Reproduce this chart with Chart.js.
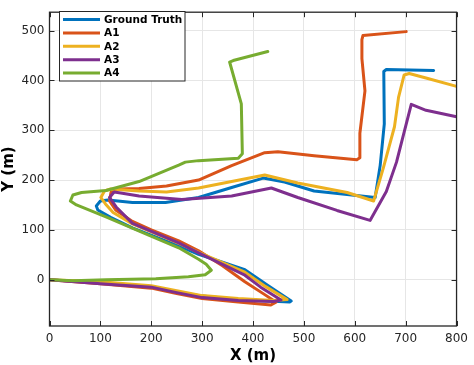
<!DOCTYPE html>
<html>
<head>
<meta charset="utf-8">
<script src="https://cdn.jsdelivr.net/npm/chart.js@4.4.0/dist/chart.umd.min.js"></script>
<style>
  html, body { margin: 0; padding: 0; background: #fff; }
  #wrap { width: 474px; height: 365px; }
</style>
</head>
<body>
<div id="wrap"><canvas id="pathChart" width="474" height="365"></canvas></div>
<script>
// tick labels
const xTicks = [0, 100, 200, 300, 400, 500, 600, 700, 800];
const yTicks = [0, 100, 200, 300, 400, 500];

// Ground Truth
const gtX = [0, 100, 200, 250, 300, 371, 430, 472, 475, 430, 384, 293, 254, 163, 120, 95, 92, 100, 115, 163, 228, 293, 358, 420, 462, 520, 585, 640, 650, 658, 657, 662, 755];
const gtY = [0, -6, -14, -24, -33, -40, -43, -45, -43, -12, 20, 51, 68, 104, 125, 140, 148, 158, 160, 155, 155, 165, 185, 204, 196, 178, 171, 165, 230, 313, 418, 422, 420];

// A1
const a1X = [0, 100, 200, 250, 300, 371, 435, 445, 420, 384, 340, 293, 254, 200, 163, 130, 118, 121, 135, 176, 230, 293, 358, 423, 449, 520, 604, 610, 610, 620, 614, 614, 616, 701];
const a1Y = [0, -8, -17, -28, -38, -45, -51, -45, -28, -4, 28, 58, 78, 100, 117, 140, 158, 176, 182, 183, 188, 200, 229, 255, 257, 249, 241, 245, 294, 379, 444, 482, 490, 498];

// A2
const a2X = [0, 100, 200, 250, 300, 371, 440, 467, 425, 384, 293, 254, 163, 125, 110, 101, 108, 120, 176, 230, 293, 358, 423, 488, 585, 637, 656, 678, 686, 697, 707, 740, 800];
const a2Y = [0, -4, -12, -22, -32, -38, -42, -40, -14, 15, 55, 73, 112, 135, 152, 165, 178, 182, 178, 176, 184, 197, 210, 194, 175, 158, 224, 307, 366, 411, 414, 405, 388];

// A3
const a3X = [0, 100, 200, 250, 300, 371, 440, 455, 415, 384, 293, 254, 163, 131, 118, 127, 140, 176, 260, 358, 436, 488, 565, 630, 662, 682, 695, 711, 740, 800];
const a3Y = [0, -8, -15, -26, -36, -42, -44, -41, -15, 9, 54, 74, 113, 146, 165, 176, 174, 168, 161, 168, 184, 165, 139, 119, 177, 236, 288, 352, 340, 327];

// A4
const a4X = [0, 46, 111, 209, 273, 306, 318, 308, 293, 254, 196, 111, 53, 41, 46, 63, 111, 176, 254, 267, 293, 371, 379, 377, 354, 361, 429];
const a4Y = [0, -2, 0, 2, 6, 10, 19, 31, 41, 64, 89, 126, 150, 158, 170, 175, 179, 197, 230, 236, 239, 244, 253, 353, 437, 440, 458];

const seriesNames = ["Ground Truth", "A1", "A2", "A3", "A4"];
const seriesColors = ["#0072BD", "#D95319", "#EDB120", "#7E2F8E", "#77AC30"];
const seriesX = [gtX, a1X, a2X, a3X, a4X];
const seriesY = [gtY, a1Y, a2Y, a3Y, a4Y];

const axisColor = "#262626";

function toPoints(xs, ys) {
    return xs.map((x, i) => ({ x: x, y: ys[i] }));
}

// frame, inward ticks and legend box (MATLAB style)
const framePlugin = {
    id: "frame",
    afterDraw(chart) {
        const c = chart.ctx;
        const a = chart.chartArea;
        const xs = chart.scales.x, ys = chart.scales.y;
        c.save();
        c.strokeStyle = axisColor;
        c.lineWidth = 1.3;
        c.strokeRect(a.left, a.top, a.right - a.left, a.bottom - a.top);
        c.lineWidth = 1;
        c.beginPath();
        xTicks.forEach(v => {
            const p = Math.round(xs.getPixelForValue(v)) + 0.5;
            c.moveTo(p, a.bottom); c.lineTo(p, a.bottom - 5);
            c.moveTo(p, a.top); c.lineTo(p, a.top + 5);
        });
        yTicks.forEach(v => {
            const p = Math.round(ys.getPixelForValue(v)) + 0.5;
            c.moveTo(a.left, p); c.lineTo(a.left + 5, p);
            c.moveTo(a.right, p); c.lineTo(a.right - 5, p);
        });
        c.stroke();

        // legend
        const bx = 59.5, by = 11.5, bw = 125.5, bh = 69.5;
        c.fillStyle = "#fff";
        c.fillRect(bx, by, bw, bh);
        c.strokeStyle = axisColor;
        c.lineWidth = 1;
        c.strokeRect(bx, by, bw, bh);
        c.font = "bold 10.5px 'DejaVu Sans'";
        c.textBaseline = "middle";
        chart.data.datasets.forEach((ds, i) => {
            const ry = 19.5 + i * 13.4;
            c.strokeStyle = ds.borderColor;
            c.lineWidth = 3;
            c.beginPath();
            c.moveTo(63, ry); c.lineTo(100, ry);
            c.stroke();
            c.fillStyle = "#000";
            c.fillText(ds.label, 104, ry + 0.5);
        });
        c.restore();
    }
};

const ctx = document.getElementById("pathChart").getContext("2d");
const pathChart = new Chart(ctx, {
    type: "line",
    data: {
        datasets: seriesNames.map((name, i) => ({
            label: name,
            data: toPoints(seriesX[i], seriesY[i]),
            borderColor: seriesColors[i],
            backgroundColor: seriesColors[i],
            borderWidth: 3,
            pointRadius: 0,
            tension: 0,
            fill: false,
            order: seriesNames.length - i,
            borderJoinStyle: "round",
            borderCapStyle: "round"
        }))
    },
    options: {
        responsive: false,
        animation: false,
        layout: { padding: { left: 0, top: 2, right: 13, bottom: 0 } },
        plugins: {
            legend: { display: false },
            tooltip: { enabled: false }
        },
        scales: {
            x: {
                type: "linear",
                min: 0,
                max: 800,
                afterBuildTicks: s => { s.ticks = xTicks.map(v => ({ value: v })); },
                afterFit: s => { s.height = 39; },
                grid: { color: "#e6e6e6", drawTicks: false },
                border: { display: false },
                ticks: {
                    padding: 6,
                    color: axisColor,
                    font: { family: "DejaVu Sans", size: 12 },
                    maxRotation: 0
                },
                title: {
                    display: true,
                    text: "X (m)",
                    color: "#000",
                    font: { family: "DejaVu Sans", size: 15, weight: "bold" },
                    padding: { top: 0, bottom: 0 }
                }
            },
            y: {
                type: "linear",
                min: -93,
                max: 537,
                afterBuildTicks: s => { s.ticks = yTicks.map(v => ({ value: v })); },
                afterFit: s => { s.width = 49.5; },
                grid: { color: "#e6e6e6", drawTicks: false },
                border: { display: false },
                ticks: {
                    padding: 5,
                    color: axisColor,
                    font: { family: "DejaVu Sans", size: 12 }
                },
                title: {
                    display: true,
                    text: "Y (m)",
                    color: "#000",
                    font: { family: "DejaVu Sans", size: 15, weight: "bold" },
                    padding: { top: 0, bottom: 0 }
                }
            }
        }
    },
    plugins: [framePlugin]
});
</script>
</body>
</html>
